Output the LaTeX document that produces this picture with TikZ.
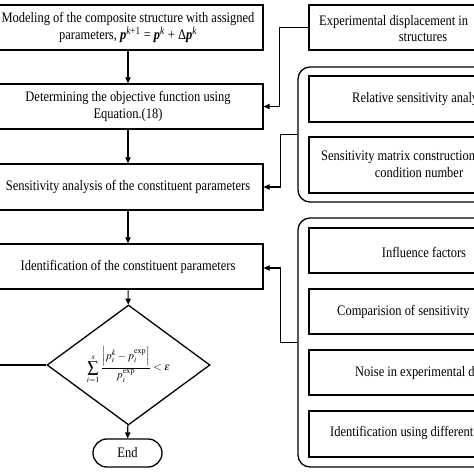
\documentclass[tikz,border=0pt]{standalone}
\usepackage{mathptmx}
\usepackage{fontspec}
\setmainfont{Liberation Serif}[FakeStretch=0.86]
\usetikzlibrary{shapes.geometric,arrows.meta}
\begin{document}
\begin{tikzpicture}[x=1pt,y=-1pt,
  every node/.style={font=\fontsize{14.5}{17}\selectfont},
  lbox/.style={draw, line width=1.3pt, minimum width=270pt, minimum height=45pt, align=center, inner sep=0pt},
  rbox/.style={draw, line width=1.3pt, minimum width=226pt, inner sep=0pt},
  grp/.style={draw, line width=1.3pt, rounded corners=12pt, minimum width=250pt, inner sep=0pt},
  txt/.style={anchor=west, inner sep=0pt},
  ctxt/.style={inner sep=0pt},
  arr/.style={line width=1.1pt, -{Triangle[length=6pt,width=5.5pt]}},
  con/.style={line width=1.1pt}]
\useasboundingbox (0,0) rectangle (474,474);
\clip (0,0) rectangle (474,474);
% left column
\node[lbox] (b1) at (128,27.5) {Modeling of the composite structure with assigned\\parameters, {\bfseries\itshape p}\textsuperscript{\itshape k\upshape +1} = {\bfseries\itshape p}\textsuperscript{\itshape k} + Δ{\bfseries\itshape p}\textsuperscript{\itshape k}};
\node[lbox] (b2) at (128,106.5) {Determining the objective function using\\Equation.(18)};
\node[lbox, minimum height=46pt] (b3) at (128,187) {Sensitivity analysis of the constituent parameters};
\node[lbox] (b4) at (128,266.5) {Identification of the constituent parameters};
\node[diamond, draw, line width=1.3pt, minimum width=163pt, minimum height=82pt, inner sep=0pt, font=\fontsize{11}{13}\selectfont] (d) at (128.5,365) {$\displaystyle\sum_{i=1}^{s}\frac{\Bigl|p_i^{k}-p_i^{\mathrm{exp}}\Bigr|}{p_i^{\mathrm{exp}}}<\varepsilon$};
\node[draw, line width=1.3pt, rounded corners=14pt, minimum width=69pt, minimum height=28pt, inner sep=0pt] (end) at (127.5,453) {End};
\coordinate (lout) at (-10,365);
% right column
\node[rbox, minimum height=45pt] (exp) at (422,27.5) {};
\node[txt] (t1) at (319,22) {Experimental displacement in};
\node[ctxt] (t1b) at (423,37.5) {structures};
\node[grp, minimum height=135pt] (g1) at (423,134.5) {};
\node[rbox, minimum height=46pt] (r1) at (422,99) {};
\node[txt] (t2) at (352,99.5) {Relative sensitivity analysis};
\node[rbox, minimum height=56pt] (r2) at (422,165) {};
\node[txt] (t3) at (321,157.5) {Sensitivity matrix construction};
\node[ctxt] (t3b) at (419,173) {condition number};
\node[grp, minimum height=249pt] (g2) at (423,342.5) {};
\node[rbox, minimum height=45pt] (q1) at (422,250.5) {};
\node[ctxt] (u1) at (424,252) {Influence factors};
\node[rbox, minimum height=45pt] (q2) at (422,311.5) {};
\node[txt] (u2) at (337,312) {Comparision of sensitivity};
\node[rbox, minimum height=45pt] (q3) at (422,372.5) {};
\node[txt] (u3) at (355,373) {Noise in experimental data};
\node[rbox, minimum height=46pt] (q4) at (422,434) {};
\node[txt] (u4) at (330,433) {Identification using different};
% connectors
\draw[arr] (b1) -- (b2);
\draw[arr] (b2) -- (b3);
\draw[arr] (b3) -- (b4);
\draw[arr] (b4) -- (d);
\draw[arr] (d) -- (end);
\draw[con] (d.west) -- (lout);
\draw[arr] (exp.west) -- ++(-29,0) |- (b2.east);
\draw[arr] (g1.west) -- ++(-17,0) |- (b3.east);
\draw[arr] (g2.west) -- ++(-17,0) |- ([yshift=-1.5pt]b4.east);
\end{tikzpicture}
\end{document}
